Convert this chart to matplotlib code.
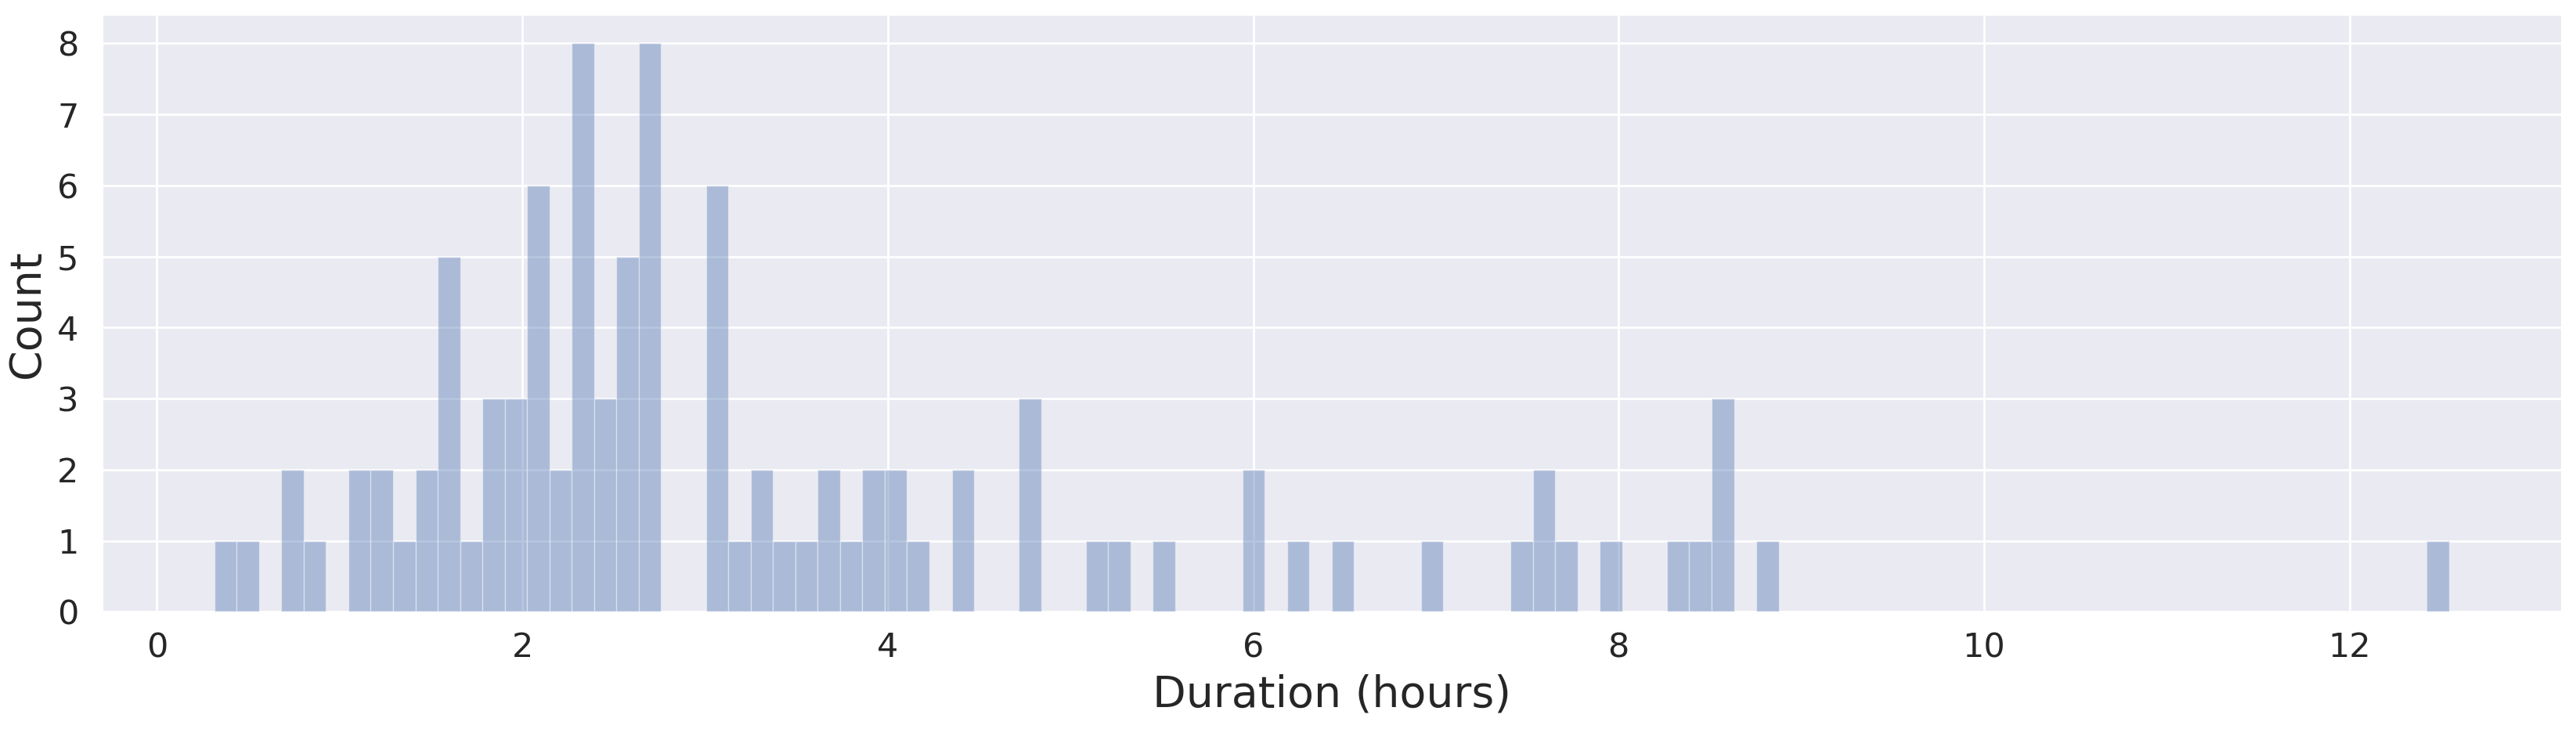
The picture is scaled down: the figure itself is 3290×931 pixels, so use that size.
import numpy as np
import matplotlib
matplotlib.use("Agg")
import matplotlib.pyplot as plt
import seaborn as sns

# histogram of session durations: 100 equal bins between the min and max value
dur_min = 0.314
dur_max = 12.545
bin_counts = [
    1, 1, 0, 2, 1, 0, 2, 2, 1, 2, 5, 1, 3, 3, 6, 2, 8, 3, 5, 8,
    0, 0, 6, 1, 2, 1, 1, 2, 1, 2, 2, 1, 0, 2, 0, 0, 3, 0, 0, 1,
    1, 0, 1, 0, 0, 0, 2, 0, 1, 0, 1, 0, 0, 0, 1, 0, 0, 0, 1, 2,
    1, 0, 1, 0, 0, 1, 1, 3, 0, 1, 0, 0, 0, 0, 0, 0, 0, 0, 0, 0,
    0, 0, 0, 0, 0, 0, 0, 0, 0, 0, 0, 0, 0, 0, 0, 0, 0, 0, 0, 1,
]
x_ticks = [0, 2, 4, 6, 8, 10, 12]
y_ticks = [0, 1, 2, 3, 4, 5, 6, 7, 8]

sns.set_style("darkgrid")
plt.rcParams["font.family"] = ["DejaVu Sans"]

edges = np.linspace(dur_min, dur_max, len(bin_counts) + 1)

fig = plt.figure(figsize=(32.9, 9.31), dpi=100)
ax = fig.add_axes([0.0398, 0.1606, 0.9543, 0.819])

ax.bar(edges[:-1], bin_counts, width=np.diff(edges), align="edge",
       color="#4c72b0", alpha=0.4, edgecolor="white", linewidth=1.0)

span = dur_max - dur_min
ax.set_xlim(dur_min - 0.05 * span, dur_max + 0.05 * span)
ax.set_ylim(0, max(bin_counts) * 1.05)
ax.set_xticks(x_ticks)
ax.set_yticks(y_ticks)

ax.grid(True, color="white", linewidth=2.0)
ax.tick_params(axis="both", labelsize=31, colors=".15", length=0)
ax.tick_params(axis="y", pad=22)
ax.tick_params(axis="x", pad=18)

ax.set_xlabel("Duration (hours)", fontsize=40, color=".15", labelpad=9)
ax.set_ylabel("Count", fontsize=40, color=".15", labelpad=8)

fig.savefig("out.png", dpi=100)
